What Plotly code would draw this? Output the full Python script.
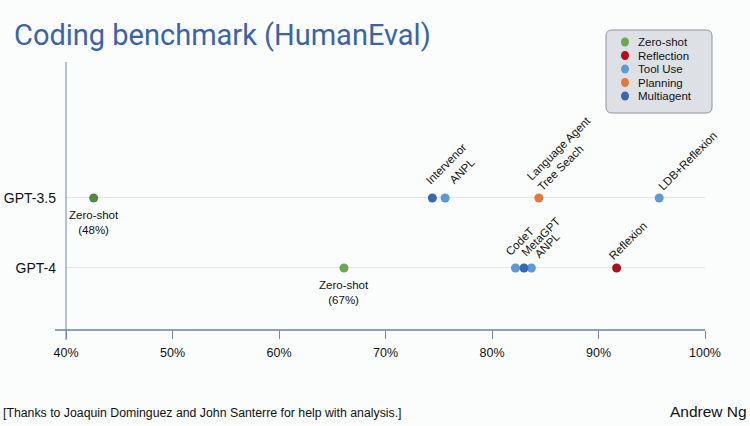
import plotly.graph_objects as go

# ---- data ----
llm_order = ["GPT-4", "GPT-3.5"]

zs_models = ["GPT-4", "GPT-3.5"]
zs_x = [66.1, 42.6]
zs_text = ["Zero-shot<br>(67%)", "Zero-shot<br>(48%)"]

refl_models = ["GPT-4"]
refl_x = [91.7]
refl_text = ["Reflexion"]

tool_models = ["GPT-3.5", "GPT-3.5", "GPT-4", "GPT-4"]
tool_x = [75.6, 95.7, 82.2, 83.7]
tool_text = ["ANPL", "LDB+Reflexion", "CodeT", "ANPL"]

plan_models = ["GPT-3.5"]
plan_x = [84.4]
plan_text = ["Language Agent<br>Tree Seach"]

multi_models = ["GPT-3.5", "GPT-4"]
multi_x = [74.4, 83.0]
multi_text = ["Intervenor", "MetaGPT"]

legend_names = ["Zero-shot", "Reflection", "Tool Use", "Planning", "Multiagent"]

x_ticks = [40, 50, 60, 70, 80, 90, 100]
x_ticktext = ["40%", "50%", "60%", "70%", "80%", "90%", "100%"]

# ---- styles ----
C_ZS = "#6aa84f"
C_ZS_DARK = "#4f8a34"
C_REFL = "#b30f1a"
C_TOOL = "#5b9bd5"
C_PLAN = "#e4783a"
C_MULTI = "#3a68b0"
legend_colors = [C_ZS, C_REFL, C_TOOL, C_PLAN, C_MULTI]
FONT = "Liberation Sans, Arial, sans-serif"

# pixel shifts for rotated labels (style only), keyed by (model, label)
label_shift = {
    ("GPT-3.5", "Intervenor"): (-12, 9),
    ("GPT-3.5", "ANPL"): (-1, 9),
    ("GPT-3.5", "Language Agent<br>Tree Seach"): (-17, 2),
    ("GPT-3.5", "LDB+Reflexion"): (-6, 3),
    ("GPT-4", "Reflexion"): (-13, 3),
    ("GPT-4", "CodeT"): (-15, 8),
    ("GPT-4", "MetaGPT"): (-8, 7),
    ("GPT-4", "ANPL"): (-2, 5),
}

# plot-area geometry (pixels)
W, H = 750, 426
ML, MR, MT, MB = 66, 45, 62, 96
PW, PH = W - ML - MR, H - MT - MB

def px(xp):
    return (xp - ML) / PW

def py(yp):
    return (H - MB - yp) / PH

fig = go.Figure()

def add(name, xs, ys, color):
    fig.add_trace(go.Scatter(
        x=xs, y=ys, mode="markers", name=name,
        marker=dict(size=9, color=color, line=dict(width=0)),
        hoverinfo="skip", showlegend=False,
    ))

add("Zero-shot", zs_x, zs_models, [C_ZS, C_ZS_DARK])
add("Reflection", refl_x, refl_models, C_REFL)
add("Tool Use", tool_x, tool_models, C_TOOL)
add("Planning", plan_x, plan_models, C_PLAN)
add("Multiagent", multi_x, multi_models, C_MULTI)

# rotated labels
for xs, ys, ts in [(refl_x, refl_models, refl_text),
                   (tool_x, tool_models, tool_text),
                   (plan_x, plan_models, plan_text),
                   (multi_x, multi_models, multi_text)]:
    for x, y, t in zip(xs, ys, ts):
        sx, sy = label_shift.get((y, t), (-4, 4))
        fig.add_annotation(
            x=x, y=y, text=t, showarrow=False, textangle=-45,
            xanchor="left", yanchor="bottom", xshift=sx, yshift=sy,
            font=dict(family=FONT, size=11.5, color="#111"),
            align="left",
        )

# zero-shot labels below
for x, y, t in zip(zs_x, zs_models, zs_text):
    fig.add_annotation(
        x=x, y=y, text=t, showarrow=False,
        xanchor="center", yanchor="top", yshift=-9,
        font=dict(family=FONT, size=11.5, color="#111"),
    )

# custom legend box (rounded)
bx0, bx1, by0, by1, r = 606, 712, 30, 113, 6
path = (f"M {px(bx0 + r)} {py(by0)} L {px(bx1 - r)} {py(by0)} "
        f"Q {px(bx1)} {py(by0)} {px(bx1)} {py(by0 + r)} "
        f"L {px(bx1)} {py(by1 - r)} Q {px(bx1)} {py(by1)} {px(bx1 - r)} {py(by1)} "
        f"L {px(bx0 + r)} {py(by1)} Q {px(bx0)} {py(by1)} {px(bx0)} {py(by1 - r)} "
        f"L {px(bx0)} {py(by0 + r)} Q {px(bx0)} {py(by0)} {px(bx0 + r)} {py(by0)} Z")
fig.add_shape(type="path", xref="paper", yref="paper", path=path,
              fillcolor="#dde1e6", line=dict(color="#8f959b", width=1), layer="above")
for i, (nm, col) in enumerate(zip(legend_names, legend_colors)):
    cy = 42 + i * 13.5
    fig.add_shape(type="circle", xref="paper", yref="paper",
                  x0=px(621), x1=px(629), y0=py(cy + 4.5), y1=py(cy - 4.5),
                  fillcolor=col, line=dict(width=0), layer="above")
    fig.add_annotation(xref="paper", yref="paper", x=px(636), y=py(cy),
                       text=nm, showarrow=False, xanchor="left", yanchor="middle",
                       font=dict(family=FONT, size=11.5, color="#111"))

# axis lines (extend slightly past the corner like the reference)
fig.add_shape(type="line", xref="paper", yref="paper",
              x0=px(55), x1=1, y0=0, y1=0, line=dict(color="#8ea0bb", width=2))
fig.add_shape(type="line", xref="paper", yref="paper",
              x0=0, x1=0, y0=py(340), y1=1, line=dict(color="#6d86a6", width=1))

fig.add_annotation(
    xref="paper", yref="paper", x=px(1), y=py(413),
    text="[Thanks to Joaquin Dominguez and John Santerre for help with analysis.]",
    showarrow=False, xanchor="left", yanchor="middle",
    font=dict(family=FONT, size=12.3, color="#111"),
)
fig.add_annotation(
    xref="paper", yref="paper", x=px(749), y=py(411),
    text="Andrew Ng", showarrow=False, xanchor="right", yanchor="middle",
    font=dict(family=FONT, size=15.5, color="#111"),
)

fig.update_layout(
    width=W, height=H,
    margin=dict(l=ML, r=MR, t=MT, b=MB, autoexpand=False),
    paper_bgcolor="#fbfcfc", plot_bgcolor="#fbfcfc",
    title=dict(
        text="Coding benchmark (HumanEval)",
        xref="container", yref="container", x=14 / W, y=1 - 35 / H,
        xanchor="left", yanchor="middle",
        font=dict(family="Roboto, sans-serif", size=29, color="#3b64a8"),
    ),
    showlegend=False,
    xaxis=dict(
        range=[40, 100], tickvals=x_ticks, ticktext=x_ticktext,
        showgrid=False, zeroline=False, showline=False, automargin=False,
        ticks="outside", ticklen=8, tickcolor="#6d86a6", tickwidth=1,
        ticklabelstandoff=3,
        tickfont=dict(family=FONT, size=12.5, color="#111"),
        fixedrange=True,
    ),
    yaxis=dict(
        type="category", categoryorder="array", categoryarray=llm_order,
        range=[-0.886, 2.943], automargin=False,
        showgrid=True, gridcolor="#e2e4e6", gridwidth=1,
        showline=False, ticks="", ticklabelstandoff=9,
        tickfont=dict(family=FONT, size=14, color="#111"),
        fixedrange=True,
    ),
)

fig.write_html("out.html")
